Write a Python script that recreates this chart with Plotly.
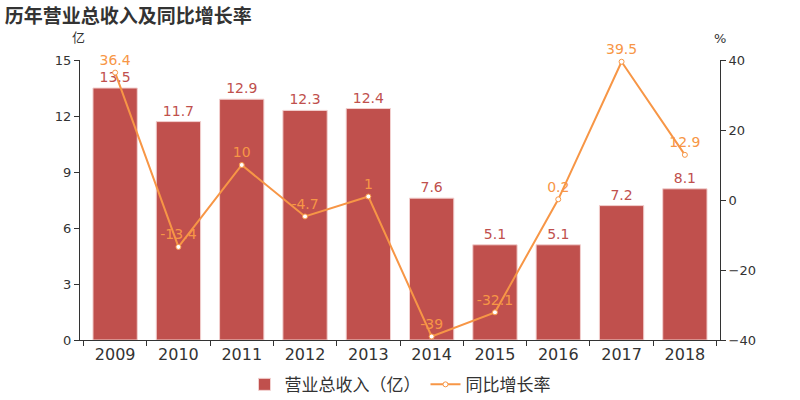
import plotly.graph_objects as go

years = ["2009", "2010", "2011", "2012", "2013", "2014", "2015", "2016", "2017", "2018"]
revenue = [13.5, 11.7, 12.9, 12.3, 12.4, 7.6, 5.1, 5.1, 7.2, 8.1]
growth = [36.4, -13.4, 10, -4.7, 1, -39, -32.1, 0.2, 39.5, 12.9]
growth_labels = ["36.4", "-13.4", "10", "-4.7", "1", "-39", "-32.1", "0.2", "39.5", "12.9"]

bar_color = "#c0504d"
line_color = "#f79646"
font = "DejaVu Sans, Noto Sans CJK SC, sans-serif"
cjk = "Noto Sans CJK SC, DejaVu Sans, sans-serif"

fig = go.Figure()
fig.add_trace(go.Bar(
    x=years, y=revenue, name="营业总收入（亿）",
    marker=dict(color=bar_color, line=dict(color="#f2d0cf", width=1)),
    width=0.7,
    text=[str(v) for v in revenue], textposition="outside",
    textfont=dict(color=bar_color, size=14), cliponaxis=False,
))
fig.add_trace(go.Scatter(
    x=years, y=growth, name="同比增长率", yaxis="y2",
    mode="lines+markers+text",
    line=dict(color=line_color, width=2),
    marker=dict(symbol="circle", size=5, color="white", line=dict(color=line_color, width=1)),
    text=growth_labels, textposition="top center",
    textfont=dict(color=line_color, size=14), cliponaxis=False,
))

fig.update_layout(
    width=800, height=400,
    margin=dict(l=80, r=80, t=60, b=60, autoexpand=False),
    paper_bgcolor="white", plot_bgcolor="white",
    font=dict(family=font, color="#333333"),
    title=dict(text="<b>历年营业总收入及同比增长率</b>", x=0.006, xanchor="left", y=0.96, yanchor="middle",
               font=dict(size=19, color="#333333", family=cjk)),
    bargap=0.3,
    showlegend=True,
    legend=dict(orientation="h", x=0.5, xanchor="center", y=-0.16, yanchor="middle",
                font=dict(size=17, color="#333333", family=cjk)),
    xaxis=dict(showline=True, linecolor="#333333", linewidth=1, ticks="outside",
               tickson="boundaries", ticklen=5, tickcolor="#333333",
               tickfont=dict(size=16, color="#333333"), showgrid=False),
    yaxis=dict(range=[0, 15], tickvals=[0, 3, 6, 9, 12, 15], showline=True, linecolor="#333333",
               ticks="outside", ticklen=5, tickcolor="#333333", showgrid=False, zeroline=False,
               tickfont=dict(size=13, color="#333333")),
    yaxis2=dict(range=[-40, 40], tickvals=[-40, -20, 0, 20, 40], overlaying="y", side="right",
                showline=True, linecolor="#333333", ticks="outside", ticklen=5, tickcolor="#333333",
                showgrid=False, zeroline=False, tickfont=dict(size=13, color="#333333")),
    annotations=[
        dict(text="亿", xref="paper", yref="paper", x=0, y=1.0, yshift=12, xshift=-2, xanchor="center",
             yanchor="bottom", showarrow=False, font=dict(size=13, color="#333333", family=cjk)),
        dict(text="%", xref="paper", yref="paper", x=1, y=1.0, yshift=12, xshift=0, xanchor="center",
             yanchor="bottom", showarrow=False, font=dict(size=13, color="#333333")),
    ],
)

fig.write_html("out.html")
